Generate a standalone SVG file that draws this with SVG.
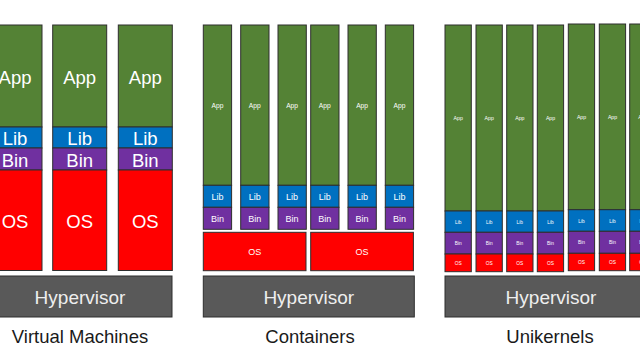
<svg xmlns="http://www.w3.org/2000/svg" width="640" height="360" viewBox="0 0 640 360">
<style>
rect{stroke:#2e2e2e;stroke-width:1}
.app{fill:#548235}
.lib{fill:#0070c0}
.bin{fill:#7030a0}
.os{fill:#ff0000}
.hyp{fill:#595959}
text{font-family:"Liberation Sans",Arial,sans-serif;fill:#ffffff;text-anchor:middle}
.hv{font-size:19px;fill:#eeeeee}
.cap{font-size:18.5px;fill:#1a1a1a}
.vm{font-size:18.5px}
.ct{font-size:9px}
.cta{font-size:6.7px}
.uk{font-size:4.8px}
.uka{font-size:5.2px}
</style>

<g id="vm">
  <g id="vm1">
    <rect class="app" x="-12" y="25" width="54" height="102"/>
    <rect class="lib" x="-12" y="127" width="54" height="21"/>
    <rect class="bin" x="-12" y="148" width="54" height="22"/>
    <rect class="os" x="-12" y="170" width="54" height="100.5"/>
    <text class="vm" x="15" y="83.5">App</text>
    <text class="vm" x="15" y="144.5">Lib</text>
    <text class="vm" x="15" y="166.5">Bin</text>
    <text class="vm" x="15" y="227.5">OS</text>
  </g>
  <g id="vm2">
    <rect class="app" x="52.7" y="25" width="54" height="102"/>
    <rect class="lib" x="52.7" y="127" width="54" height="21"/>
    <rect class="bin" x="52.7" y="148" width="54" height="22"/>
    <rect class="os" x="52.7" y="170" width="54" height="100.5"/>
    <text class="vm" x="79.7" y="83.5">App</text>
    <text class="vm" x="79.7" y="144.5">Lib</text>
    <text class="vm" x="79.7" y="166.5">Bin</text>
    <text class="vm" x="79.7" y="227.5">OS</text>
  </g>
  <g id="vm3">
    <rect class="app" x="118.3" y="25" width="54" height="102"/>
    <rect class="lib" x="118.3" y="127" width="54" height="21"/>
    <rect class="bin" x="118.3" y="148" width="54" height="22"/>
    <rect class="os" x="118.3" y="170" width="54" height="100.5"/>
    <text class="vm" x="145.3" y="83.5">App</text>
    <text class="vm" x="145.3" y="144.5">Lib</text>
    <text class="vm" x="145.3" y="166.5">Bin</text>
    <text class="vm" x="145.3" y="227.5">OS</text>
  </g>
  <g id="vm-hyp">
    <rect class="hyp" x="-12" y="276" width="184" height="41"/>
    <text class="hv" x="80" y="303.6">Hypervisor</text>
  </g>
  <text class="cap" x="80" y="343">Virtual Machines</text>
</g>

<g id="containers">
  <g id="c1">
    <rect class="app" x="203.3" y="25" width="28.3" height="160.3"/>
    <rect class="lib" x="203.3" y="185.3" width="28.3" height="22"/>
    <rect class="bin" x="203.3" y="207.3" width="28.3" height="22"/>
    <text class="cta" x="217.5" y="108.4">App</text>
    <text class="ct" x="217.5" y="200.2">Lib</text>
    <text class="ct" x="217.5" y="222.2">Bin</text>
  </g>
  <g id="c2">
    <rect class="app" x="240.7" y="25" width="28.3" height="160.3"/>
    <rect class="lib" x="240.7" y="185.3" width="28.3" height="22"/>
    <rect class="bin" x="240.7" y="207.3" width="28.3" height="22"/>
    <text class="cta" x="254.8" y="108.4">App</text>
    <text class="ct" x="254.8" y="200.2">Lib</text>
    <text class="ct" x="254.8" y="222.2">Bin</text>
  </g>
  <g id="c3">
    <rect class="app" x="278" y="25" width="28.3" height="160.3"/>
    <rect class="lib" x="278" y="185.3" width="28.3" height="22"/>
    <rect class="bin" x="278" y="207.3" width="28.3" height="22"/>
    <text class="cta" x="292.1" y="108.4">App</text>
    <text class="ct" x="292.1" y="200.2">Lib</text>
    <text class="ct" x="292.1" y="222.2">Bin</text>
  </g>
  <g id="c4">
    <rect class="app" x="310.7" y="25" width="28.3" height="160.3"/>
    <rect class="lib" x="310.7" y="185.3" width="28.3" height="22"/>
    <rect class="bin" x="310.7" y="207.3" width="28.3" height="22"/>
    <text class="cta" x="324.8" y="108.4">App</text>
    <text class="ct" x="324.8" y="200.2">Lib</text>
    <text class="ct" x="324.8" y="222.2">Bin</text>
  </g>
  <g id="c5">
    <rect class="app" x="348" y="25" width="28.3" height="160.3"/>
    <rect class="lib" x="348" y="185.3" width="28.3" height="22"/>
    <rect class="bin" x="348" y="207.3" width="28.3" height="22"/>
    <text class="cta" x="362.1" y="108.4">App</text>
    <text class="ct" x="362.1" y="200.2">Lib</text>
    <text class="ct" x="362.1" y="222.2">Bin</text>
  </g>
  <g id="c6">
    <rect class="app" x="385.3" y="25" width="28.3" height="160.3"/>
    <rect class="lib" x="385.3" y="185.3" width="28.3" height="22"/>
    <rect class="bin" x="385.3" y="207.3" width="28.3" height="22"/>
    <text class="cta" x="399.5" y="108.4">App</text>
    <text class="ct" x="399.5" y="200.2">Lib</text>
    <text class="ct" x="399.5" y="222.2">Bin</text>
  </g>
  <g id="c-os1">
    <rect class="os" x="203.3" y="232.3" width="102.7" height="38.4"/>
    <text class="ct" x="254.7" y="255">OS</text>
  </g>
  <g id="c-os2">
    <rect class="os" x="310.7" y="232.3" width="102.7" height="38.4"/>
    <text class="ct" x="362" y="255">OS</text>
  </g>
  <g id="c-hyp">
    <rect class="hyp" x="203.3" y="276" width="211" height="41"/>
    <text class="hv" x="308.8" y="303.6">Hypervisor</text>
  </g>
  <text class="cap" x="310" y="343">Containers</text>
</g>

<g id="unikernels">
  <g id="u1">
    <rect class="app" x="445" y="25" width="26.3" height="186"/>
    <rect class="lib" x="445" y="211" width="26.3" height="21.3"/>
    <rect class="bin" x="445" y="232.3" width="26.3" height="21.7"/>
    <rect class="os" x="445" y="254" width="26.3" height="17.7"/>
    <text class="uka" x="458.2" y="119.8">App</text>
    <text class="uk" x="458.2" y="223.7">Lib</text>
    <text class="uk" x="458.2" y="244.7">Bin</text>
    <text class="uk" x="458.2" y="264.8">OS</text>
  </g>
  <g id="u2">
    <rect class="app" x="476" y="25" width="26.3" height="186"/>
    <rect class="lib" x="476" y="211" width="26.3" height="21.3"/>
    <rect class="bin" x="476" y="232.3" width="26.3" height="21.7"/>
    <rect class="os" x="476" y="254" width="26.3" height="17.7"/>
    <text class="uka" x="489.2" y="119.8">App</text>
    <text class="uk" x="489.2" y="223.7">Lib</text>
    <text class="uk" x="489.2" y="244.7">Bin</text>
    <text class="uk" x="489.2" y="264.8">OS</text>
  </g>
  <g id="u3">
    <rect class="app" x="506.7" y="25" width="26.3" height="186"/>
    <rect class="lib" x="506.7" y="211" width="26.3" height="21.3"/>
    <rect class="bin" x="506.7" y="232.3" width="26.3" height="21.7"/>
    <rect class="os" x="506.7" y="254" width="26.3" height="17.7"/>
    <text class="uka" x="519.8" y="119.8">App</text>
    <text class="uk" x="519.8" y="223.7">Lib</text>
    <text class="uk" x="519.8" y="244.7">Bin</text>
    <text class="uk" x="519.8" y="264.8">OS</text>
  </g>
  <g id="u4">
    <rect class="app" x="537.3" y="25" width="26.3" height="186"/>
    <rect class="lib" x="537.3" y="211" width="26.3" height="21.3"/>
    <rect class="bin" x="537.3" y="232.3" width="26.3" height="21.7"/>
    <rect class="os" x="537.3" y="254" width="26.3" height="17.7"/>
    <text class="uka" x="550.5" y="119.8">App</text>
    <text class="uk" x="550.5" y="223.7">Lib</text>
    <text class="uk" x="550.5" y="244.7">Bin</text>
    <text class="uk" x="550.5" y="264.8">OS</text>
  </g>
  <g id="u5">
    <rect class="app" x="568.3" y="24" width="26.3" height="185.7"/>
    <rect class="lib" x="568.3" y="209.7" width="26.3" height="21.6"/>
    <rect class="bin" x="568.3" y="231.3" width="26.3" height="22"/>
    <rect class="os" x="568.3" y="253.3" width="26.3" height="17.4"/>
    <text class="uka" x="581.5" y="119.3">App</text>
    <text class="uk" x="581.5" y="222.7">Lib</text>
    <text class="uk" x="581.5" y="244">Bin</text>
    <text class="uk" x="581.5" y="264">OS</text>
  </g>
  <g id="u6">
    <rect class="app" x="599.3" y="24" width="26.3" height="185.7"/>
    <rect class="lib" x="599.3" y="209.7" width="26.3" height="21.6"/>
    <rect class="bin" x="599.3" y="231.3" width="26.3" height="22"/>
    <rect class="os" x="599.3" y="253.3" width="26.3" height="17.4"/>
    <text class="uka" x="612.5" y="119.3">App</text>
    <text class="uk" x="612.5" y="222.7">Lib</text>
    <text class="uk" x="612.5" y="244">Bin</text>
    <text class="uk" x="612.5" y="264">OS</text>
  </g>
  <g id="u7">
    <rect class="app" x="629.7" y="24" width="26.3" height="185.7"/>
    <rect class="lib" x="629.7" y="209.7" width="26.3" height="21.6"/>
    <rect class="bin" x="629.7" y="231.3" width="26.3" height="22"/>
    <rect class="os" x="629.7" y="253.3" width="26.3" height="17.4"/>
    <text class="uka" x="642.8" y="119.3">App</text>
    <text class="uk" x="642.8" y="222.7">Lib</text>
    <text class="uk" x="642.8" y="244">Bin</text>
    <text class="uk" x="642.8" y="264">OS</text>
  </g>
  <g id="u-hyp">
    <rect class="hyp" x="445" y="276" width="212" height="41"/>
    <text class="hv" x="551" y="303.6">Hypervisor</text>
  </g>
  <text class="cap" x="550" y="343">Unikernels</text>
</g>

<g id="connectors"></g>
</svg>
